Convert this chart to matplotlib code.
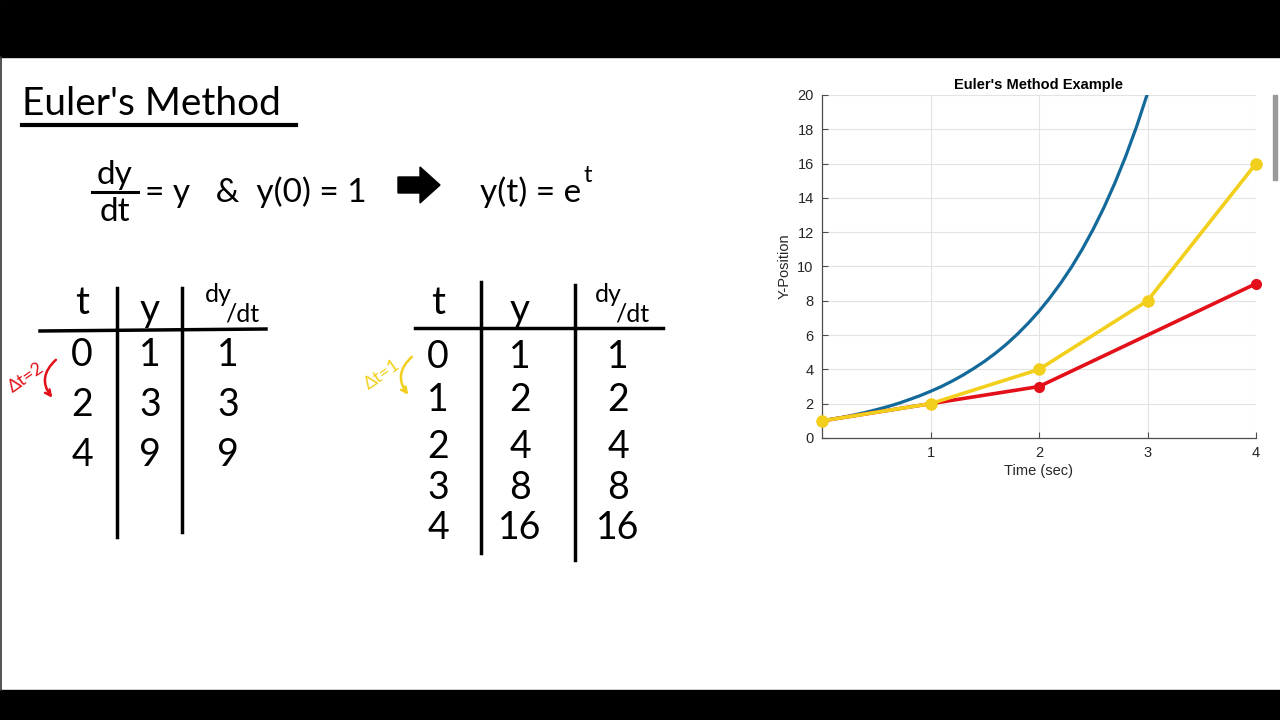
import matplotlib.pyplot as plt
from matplotlib.patches import FancyArrow, Rectangle

# data
t_big = [0, 2, 4]              # dt = 2 (red)
y_big = [1, 3, 9]
t_small = [0, 1, 2, 3, 4]      # dt = 1 (yellow)
y_small = [1, 2, 4, 8, 16]
t_exact = [0.0, 0.1, 0.2, 0.3, 0.4, 0.5, 0.6, 0.7, 0.8, 0.9, 1.0,
           1.1, 1.2, 1.3, 1.4, 1.5, 1.6, 1.7, 1.8, 1.9, 2.0,
           2.1, 2.2, 2.3, 2.4, 2.5, 2.6, 2.7, 2.8, 2.9, 3.0]
y_exact = [1.00, 1.11, 1.22, 1.35, 1.49, 1.65, 1.82, 2.01, 2.23, 2.46, 2.72,
           3.00, 3.32, 3.67, 4.06, 4.48, 4.95, 5.47, 6.05, 6.69, 7.39,
           8.17, 9.03, 9.97, 11.02, 12.18, 13.46, 14.88, 16.44, 18.17, 20.09]

BLUE = '#13699a'
YELLOW = '#f2cf1c'
RED = '#e3101a'
hand = ['Lato', 'DejaVu Sans']
arial = ['Liberation Sans', 'DejaVu Sans']

fig = plt.figure(figsize=(12.8, 7.2), dpi=100)
fig.patch.set_facecolor('white')

# overlay in pixel coords for the whiteboard part
bg = fig.add_axes([0, 0, 1, 1])
bg.set_xlim(0, 1280)
bg.set_ylim(720, 0)
bg.axis('off')
bg.add_patch(Rectangle((0, 0), 1280, 57, color='black'))
bg.add_patch(Rectangle((0, 690), 1280, 30, color='black'))
bg.plot([0.5, 0.5], [57, 690], color='#333333', lw=1.2)
bg.add_patch(Rectangle((1273, 95), 4, 85, color='#9a9a9a'))

# heading
bg.text(22, 104, "Euler's Method", fontsize=28, family=hand, va='center', ha='left')
bg.plot([22, 296], [125, 125], color='black', lw=3)

# equation line
bg.text(115, 175, 'dy', fontsize=24, family=hand, ha='center', va='center')
bg.plot([92, 138], [192, 192], color='black', lw=2.2)
bg.text(115, 212, 'dt', fontsize=24, family=hand, ha='center', va='center')
bg.text(145, 192, '= y   &  y(0) = 1', fontsize=24, family=hand, ha='left', va='center')
bg.add_patch(FancyArrow(398, 185, 22, 0, width=16, head_width=36, head_length=20, color='black'))
bg.text(480, 192, 'y(t) = e', fontsize=24, family=hand, ha='left', va='center')
bg.text(583, 176, 't', fontsize=17, family=hand, ha='left', va='center')


def draw_table(ts, ys, xt, xy, xd, hline, vlines, rows, note, note_xy, color):
    bg.text(xt, 303, 't', fontsize=28, family=hand, ha='center', va='center')
    bg.text(xy, 310, 'y', fontsize=28, family=hand, ha='center', va='center')
    bg.text(xd - 10, 295, 'dy', fontsize=18, family=hand, ha='center', va='center')
    bg.text(xd + 14, 314, '/dt', fontsize=18, family=hand, ha='center', va='center')
    bg.plot(hline[0], hline[1], color='black', lw=2.5)
    for vx, vy in vlines:
        bg.plot([vx, vx], vy, color='black', lw=2.5)
    for t, y, ry in zip(ts, ys, rows):
        bg.text(xt, ry, str(t), fontsize=27, family=hand, ha='center', va='center')
        bg.text(xy, ry, str(y), fontsize=27, family=hand, ha='center', va='center')
        bg.text(xd, ry, str(y), fontsize=27, family=hand, ha='center', va='center')
    bg.text(note_xy[0], note_xy[1], note, fontsize=13, family=hand, color=color,
            ha='center', va='center', rotation=35)
    bg.annotate('', xy=(note_xy[0] + 28, note_xy[1] + 22), xytext=(note_xy[0] + 32, note_xy[1] - 20),
                arrowprops=dict(arrowstyle='->', color=color, lw=1.8,
                                connectionstyle='arc3,rad=0.5'))


draw_table(t_big, y_big, 82, 150, 228,
           ([40, 266], [331, 329]),
           [(117, [288, 537]), (182, [288, 532])],
           [355, 405, 455], '\u0394t=2', (26, 378), RED)
draw_table(t_small, y_small, 438, 520, 618,
           ([415, 663], [328, 328]),
           [(481, [282, 553]), (575, [285, 560])],
           [357, 400, 447, 488, 528], '\u0394t=1', (382, 375), YELLOW)

# MATLAB-like plot
ax = fig.add_axes([822 / 1280, 1 - 438 / 720, (1256 - 822) / 1280, (438 - 95) / 720])
ax.plot(t_exact, y_exact, color=BLUE, lw=2.3, zorder=3)
ax.plot(t_big, y_big, color=RED, lw=2.6, marker='o', ms=7, zorder=4, clip_on=False)
ax.plot(t_small, y_small, color=YELLOW, lw=2.6, marker='o', ms=8, zorder=5, clip_on=False)
ax.set_xlim(0, 4)
ax.set_ylim(0, 20)
ax.set_xticks([1, 2, 3, 4])
ax.set_yticks(range(0, 21, 2))
ax.grid(True, color='#e3e3e3', lw=0.8)
ax.set_axisbelow(True)
for s in ['top', 'right']:
    ax.spines[s].set_visible(False)
for s in ['left', 'bottom']:
    ax.spines[s].set_color('#4d4d4d')
    ax.spines[s].set_linewidth(0.9)
ax.tick_params(direction='in', length=4, colors='#4d4d4d', labelcolor='#262626',
               labelsize=10.5, pad=6)
ax.set_title("Euler's Method Example", fontsize=10.5, fontweight='bold', pad=4, family=arial)
ax.set_xlabel('Time (sec)', fontsize=10.5, color='#262626', labelpad=3, family=arial)
ax.set_ylabel('Y-Position', fontsize=10.5, color='#262626', labelpad=4, family=arial)
for lab in ax.get_xticklabels() + ax.get_yticklabels():
    lab.set_family(arial)

fig.savefig('out.png', dpi=100)
